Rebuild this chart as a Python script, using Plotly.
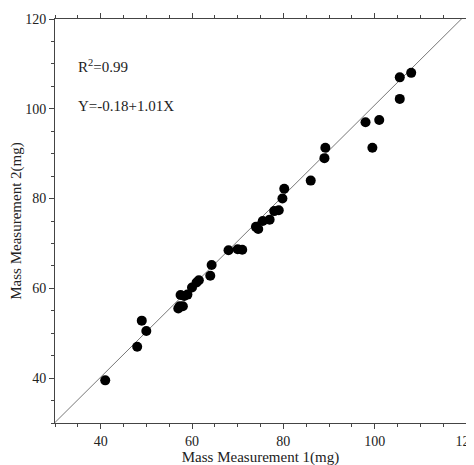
import plotly.graph_objects as go

# Mass measurements (mg)
mass_1 = [41, 48, 49, 50, 57, 57.3, 57.5, 58, 58.3, 59, 60, 61, 61.5, 64, 64.3,
          68, 70, 71, 74, 74.5, 75.5, 77, 78, 79, 79.8, 80.2, 86, 89, 89.2,
          98, 99.5, 101, 105.5, 105.5, 108]
mass_2 = [39.5, 47, 52.8, 50.5, 55.5, 56, 58.5, 56, 58.3, 58.6, 60.2, 61.3, 61.8, 62.8, 65.2,
          68.5, 68.7, 68.6, 73.7, 73.2, 75, 75.3, 77.2, 77.4, 80, 82.2, 84, 89, 91.3,
          97, 91.3, 97.5, 102.2, 107, 108]
fit_x = [30, 120]
fit_y = [-0.18 + 1.01 * v for v in fit_x]

fig = go.Figure()
fig.add_trace(go.Scatter(x=fit_x, y=fit_y, mode="lines",
                         line=dict(color="#777", width=1), hoverinfo="skip"))
fig.add_trace(go.Scatter(x=mass_1, y=mass_2, mode="markers",
                         marker=dict(color="black", size=10)))

axis = dict(showgrid=False, zeroline=False, showline=True, linecolor="#444",
            linewidth=1, mirror="ticks", ticks="outside", ticklen=5,
            tickcolor="#444", dtick=20,
            minor=dict(ticks="outside", ticklen=3, dtick=5, tickcolor="#444"),
            tickfont=dict(size=14, color="#222"))
fig.update_xaxes(axis, range=[30, 120],
                 title=dict(text="Mass Measurement 1(mg)", font=dict(size=15), standoff=0))
fig.update_yaxes(axis, range=[30, 120],
                 title=dict(text="Mass Measurement 2(mg)", font=dict(size=15), standoff=2))

fig.add_annotation(x=0.05, y=0.91, xref="paper", yref="paper", xanchor="left",
                   showarrow=False, align="left",
                   text="R<sup>2</sup>=0.99<br><br>Y=-0.18+1.01X",
                   font=dict(size=15, color="#222"))

fig.update_layout(width=474, height=465, showlegend=False,
                  plot_bgcolor="white", paper_bgcolor="white",
                  font=dict(family="Liberation Serif", color="#222"),
                  margin=dict(l=46, r=12, t=5, b=50))
fig.write_html("out.html")
